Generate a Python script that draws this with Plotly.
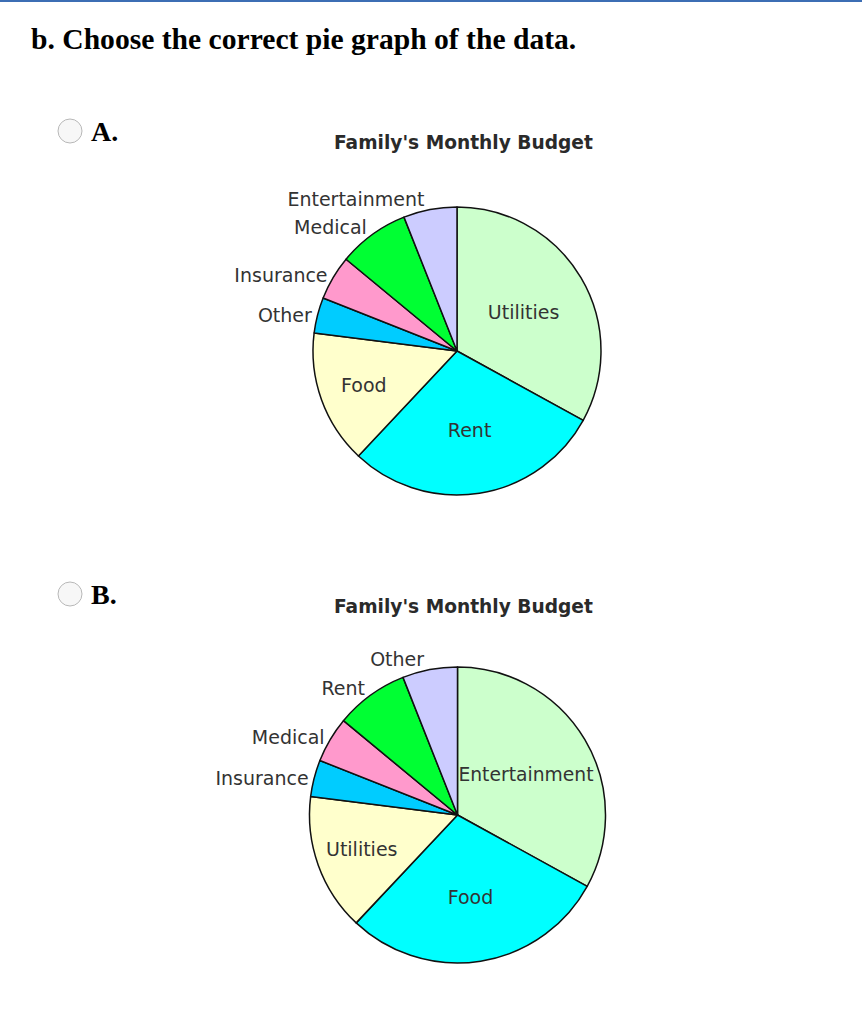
import plotly.graph_objects as go

# ---- data ----
categories_a = ["Utilities", "Rent", "Food", "Other", "Insurance", "Medical", "Entertainment"]
categories_b = ["Entertainment", "Food", "Utilities", "Insurance", "Medical", "Rent", "Other"]
values = [33, 29, 15, 4, 5, 8, 6]
slice_colors = ["#CCFFCC", "#00FFFF", "#FFFFCC", "#00CCFF", "#FF99CC", "#00FF33", "#CCCCFF"]
text_positions = ["inside", "inside", "inside", "outside", "outside", "outside", "outside"]
chart_title = "Family's Monthly Budget"
heading = "b. Choose the correct pie graph of the data."
option_labels = ["A.", "B."]

W, H = 862, 1020


def px_x(x):
    return x / W


def px_y(y):
    return 1 - y / H


def domain(cx, cy, r):
    return dict(x=[px_x(cx - r), px_x(cx + r)], y=[px_y(cy + r), px_y(cy - r)])


label_font = dict(family="DejaVu Sans", size=19, color="#333333")

fig = go.Figure()
for cats, (cx, cy, r) in [(categories_a, (457, 351, 144)), (categories_b, (457.5, 815, 148))]:
    fig.add_trace(go.Pie(
        labels=cats,
        values=values,
        sort=False,
        direction="clockwise",
        rotation=0,
        marker=dict(colors=slice_colors, line=dict(color="#111111", width=1.5)),
        textinfo="label",
        textposition=text_positions,
        insidetextorientation="horizontal",
        textfont=label_font,
        hoverinfo="label+value",
        domain=domain(cx, cy, r),
        showlegend=False,
    ))

annotations = [
    dict(x=px_x(29), y=px_y(39), xref="paper", yref="paper", xanchor="left", yanchor="middle",
         text="<b>" + heading + "</b>", showarrow=False,
         font=dict(family="Liberation Serif", size=29.6, color="#000000")),
]
shapes = [
    dict(type="rect", xref="paper", yref="paper", x0=0, x1=1, y0=px_y(2), y1=1,
         fillcolor="#3C6EB4", line=dict(width=0)),
]
for lab, ty, cy in [(option_labels[0], 143, 131), (option_labels[1], 606, 594)]:
    annotations.append(dict(x=px_x(89), y=px_y(cy), xref="paper", yref="paper", xanchor="left",
                            yanchor="middle", text="<b>" + lab + "</b>", showarrow=False,
                            font=dict(family="Liberation Serif", size=28, color="#000000")))
    annotations.append(dict(x=px_x(463.5), y=px_y(ty), xref="paper", yref="paper", xanchor="center",
                            yanchor="middle", text="<b>" + chart_title + "</b>", showarrow=False,
                            font=dict(family="DejaVu Sans", size=18.6, color="#2a2a2a")))
    shapes.append(dict(type="circle", xref="paper", yref="paper",
                       x0=px_x(58), x1=px_x(82), y0=px_y(cy + 12), y1=px_y(cy - 12),
                       fillcolor="#f7f7f7", line=dict(color="#b8b8b8", width=1)))

fig.update_layout(
    width=W, height=H,
    margin=dict(l=0, r=0, t=0, b=0),
    paper_bgcolor="white",
    plot_bgcolor="white",
    annotations=annotations,
    shapes=shapes,
    showlegend=False,
)

fig.write_html("out.html")
